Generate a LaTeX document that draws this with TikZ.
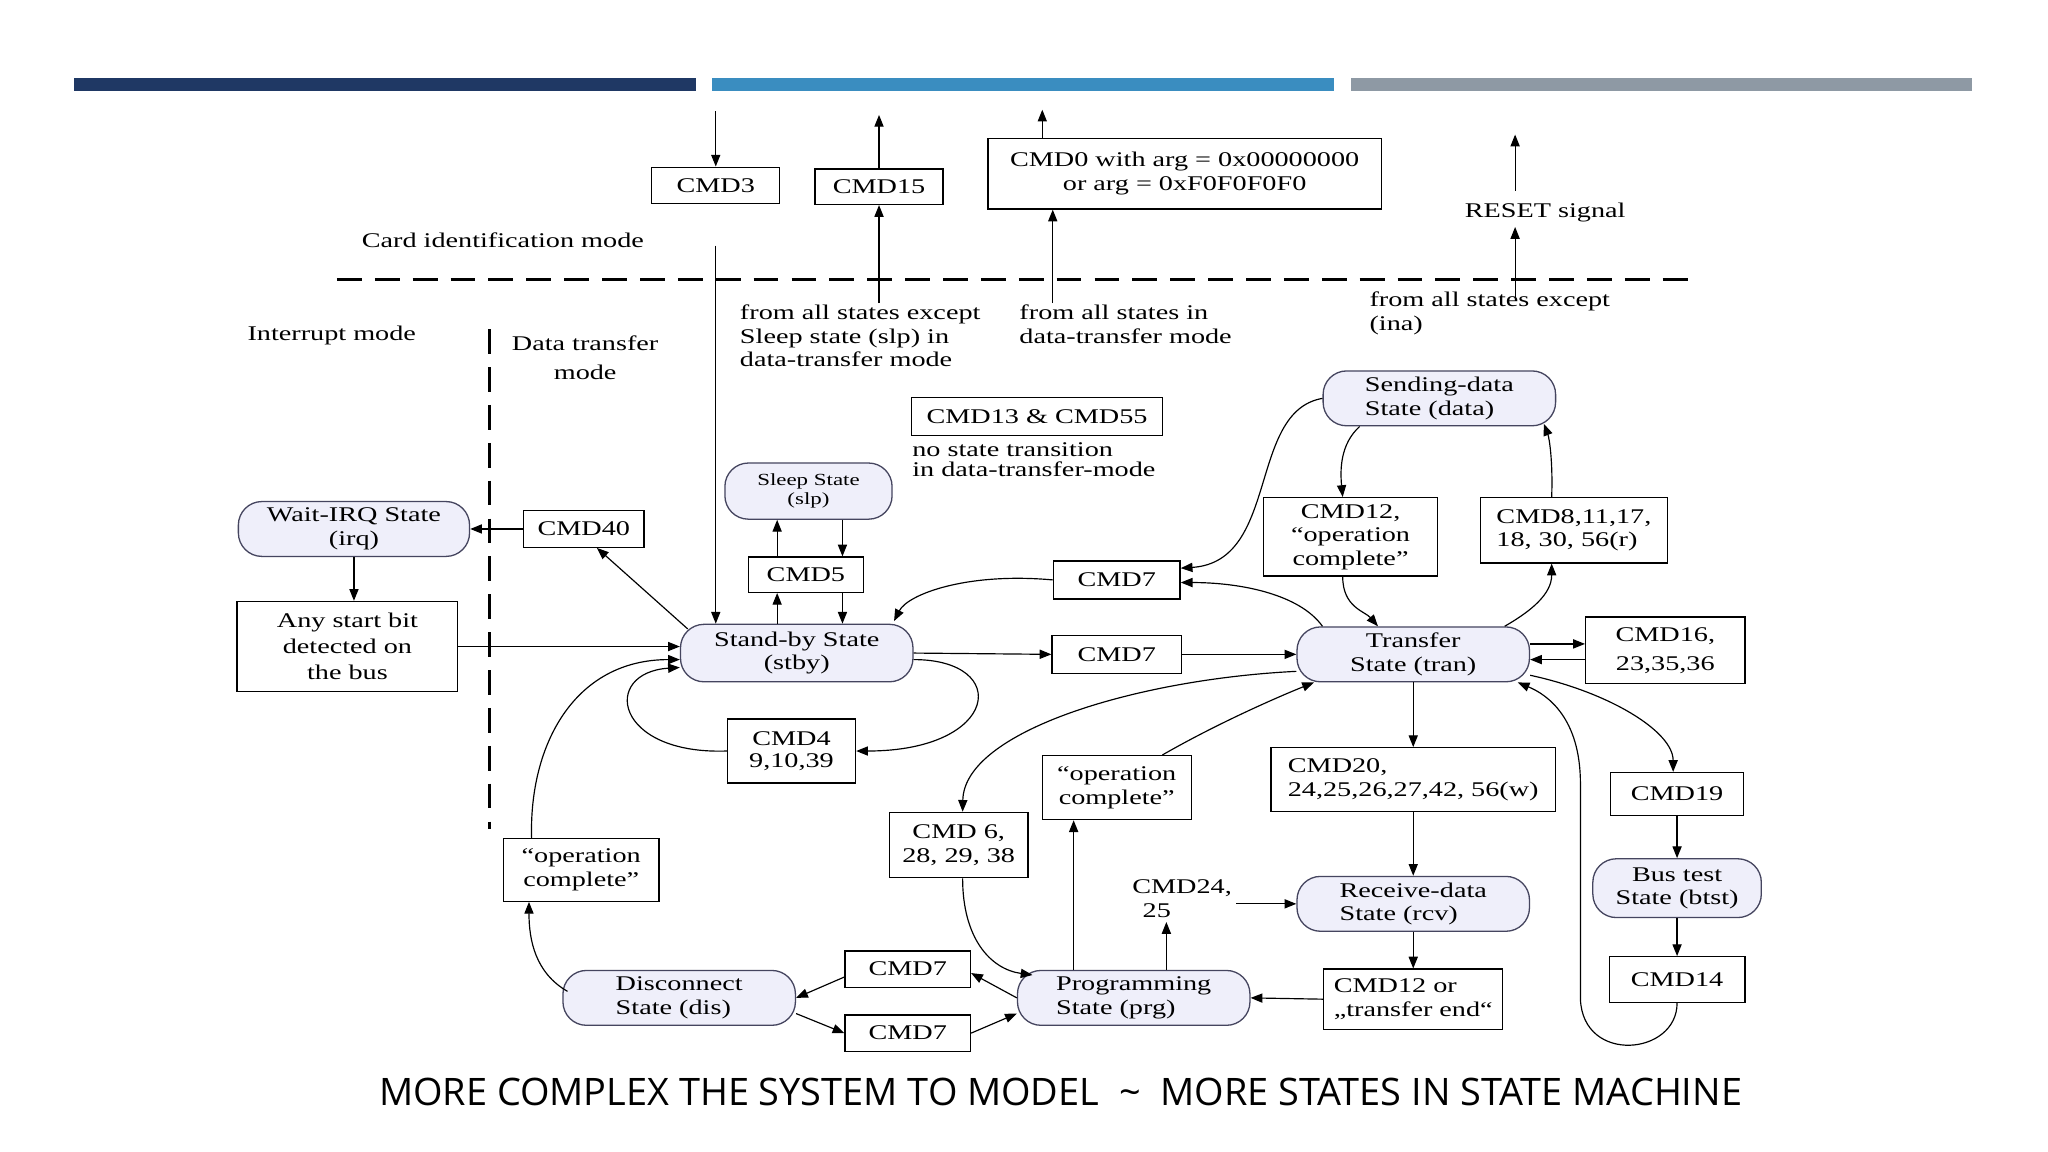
\documentclass[tikz,border=0pt]{standalone}
\usepackage{fontspec}
\setmainfont{Liberation Serif}[FakeStretch=1.35]
\newfontfamily\capfont{Open Sans}
\usetikzlibrary{arrows.meta}

\definecolor{barnavy}{HTML}{1F3864}
\definecolor{barblue}{HTML}{3A8DC0}
\definecolor{bargray}{HTML}{8E99A4}
\definecolor{stfill}{HTML}{EFEFFA}
\definecolor{stline}{HTML}{45455F}

\tikzset{
  statenode/.style = {draw = stline, fill = stfill, line width = 1pt, rounded corners = 18pt,
                      minimum width = 178pt, minimum height = 42pt, inner sep = 2pt, align = center},
  cmdnode/.style   = {draw, line width = 1pt, inner sep = 2pt, align = center},
  arr/.style       = {-{Triangle[length = 9pt, width = 7pt]}, line width = 0.9pt},
  modeline/.style  = {line width = 2.5pt, dash pattern = on 19pt off 10pt}
}

\begin{document}
\begin{tikzpicture}[x = 1pt, y = -1pt, every node/.style = {font = \fontsize{16}{18}\selectfont}]
   \useasboundingbox[fill = white] (0,0) rectangle (1568,882);

   % title bars
   \fill[barnavy] (57,60) rectangle (533,70);
   \fill[barblue] (545,60) rectangle (1021,70);
   \fill[bargray] (1034,60) rectangle (1510,70);

   % mode borders
   \draw[modeline] (258,214) -- (1302,214);
   \draw[modeline] (375,252) -- (375,635);
   \node (CardMode) at (385,184) {Card identification mode};
   \node (IntMode) at (254,257) {Interrupt mode};
   \node[align = center, font = \fontsize{16}{22}\selectfont] (DtMode) at (448,274) {Data transfer\\mode};

   % top commands
   \node[cmdnode, minimum width = 98pt, minimum height = 28pt] (C3) at (548,142) {CMD3};
   \node[cmdnode, minimum width = 98pt, minimum height = 27pt] (C15) at (673,143) {CMD15};
   \node[cmdnode, minimum width = 301pt, minimum height = 54pt] (C0) at (907,133)
      {CMD0 with arg = 0x00000000\\or arg = 0xF0F0F0F0};
   \node (Reset) at (1183,163) {RESET signal};
   \node[align = left, anchor = north west] (FromSlp) at (563,230)
      {from all states except\\Sleep state (slp) in\\data-transfer mode};
   \node[align = left, anchor = north west] (FromDt) at (777,230)
      {from all states in\\data-transfer mode};
   \node[align = left, anchor = north west] (FromIna) at (1045,220)
      {from all states except\\(ina)};
   \node[cmdnode, minimum width = 192pt, minimum height = 29pt] (C1355) at (794,319) {CMD13 \& CMD55};
   \node[align = left, anchor = north west, font = \fontsize{16}{16}\selectfont] (NoTrans) at (695,335)
      {no state transition\\in data-transfer-mode};

   \coordinate (C3In) at (548,85);
   \coordinate (C15Out) at (673,88);
   \coordinate (C15Src) at (673,232);
   \coordinate (C0Out) at (798,84);
   \coordinate (C0Src) at (806,232);
   \coordinate (ResetOut) at (1160,103);
   \coordinate (ResetTop) at (1160,146);
   \coordinate (ResetSrc) at (1160,228);
   \coordinate (StbySrc) at (548,188);

   % states
   \node[statenode, align = left] (Data) at (1102,305) {Sending-data\\State (data)};
   \node[statenode, minimum width = 128pt, minimum height = 43pt, font = \fontsize{13}{15}\selectfont] (Slp) at (619,376) {Sleep State\\(slp)};
   \node[statenode, minimum width = 177pt] (Irq) at (271,405) {Wait-IRQ State\\(irq)};
   \node[statenode, minimum height = 44pt] (Stby) at (610,500) {Stand-by State\\(stby)};
   \node[statenode] (Tran) at (1082,501) {Transfer\\State (tran)};
   \node[statenode, align = left] (Rcv) at (1082,692) {Receive-data\\State (rcv)};
   \node[statenode, minimum width = 129pt, minimum height = 45pt] (Btst) at (1284,680) {Bus test\\State (btst)};
   \node[statenode, align = left] (Dis) at (520,764) {Disconnect\\State (dis)};
   \node[statenode, align = left] (Prg) at (868,764) {Programming\\State (prg)};

   % commands
   \node[cmdnode, minimum width = 92pt, minimum height = 28pt] (C40) at (447,405) {CMD40};
   \node[cmdnode, minimum width = 88pt, minimum height = 27pt] (C5) at (617,440) {CMD5};
   \node[cmdnode, minimum width = 97pt, minimum height = 29pt] (C7a) at (855,444) {CMD7};
   \node[cmdnode, minimum width = 99pt, minimum height = 29pt] (C7b) at (855,501) {CMD7};
   \node[cmdnode, minimum width = 133pt, minimum height = 60pt] (C12a) at (1034,411) {CMD12,\\``operation\\complete''};
   \node[cmdnode, minimum width = 143pt, minimum height = 50pt, align = left] (C8) at (1205,406) {CMD8,11,17,\\18, 30, 56(r)};
   \node[cmdnode, minimum width = 122pt, minimum height = 51pt] (C16) at (1275,498) {CMD16,\\[4pt]23,35,36};
   \node[cmdnode, minimum width = 169pt, minimum height = 69pt] (Start) at (266,495) {Any start bit\\[2pt]detected on\\[2pt]the bus};
   \node[cmdnode, minimum width = 98pt, minimum height = 49pt, font = \fontsize{16}{17}\selectfont] (C4) at (606,575) {CMD4\\9,10,39};
   \node[cmdnode, minimum width = 114pt, minimum height = 49pt] (OpC) at (855,603) {``operation\\complete''};
   \node[cmdnode, minimum width = 218pt, minimum height = 49pt, align = left] (C20) at (1082,597) {CMD20,\\24,25,26,27,42, 56(w)};
   \node[cmdnode, minimum width = 102pt, minimum height = 33pt] (C19) at (1284,608) {CMD19};
   \node[cmdnode, minimum width = 106pt, minimum height = 50pt] (C6) at (734,647) {CMD 6,\\28, 29, 38};
   \node[cmdnode, minimum width = 119pt, minimum height = 48pt] (OpL) at (445,666) {``operation\\complete''};
   \node[align = left] (C2425) at (905,688) {CMD24,\\\hspace*{8pt}25};
   \node[cmdnode, minimum width = 96pt, minimum height = 28pt] (C7c) at (695,742) {CMD7};
   \node[cmdnode, minimum width = 96pt, minimum height = 28pt] (C7d) at (695,791) {CMD7};
   \node[cmdnode, minimum width = 137pt, minimum height = 46pt, align = left] (C12b) at (1082,765) {CMD12 or\\„transfer end“};
   \node[cmdnode, minimum width = 104pt, minimum height = 35pt] (C14) at (1284,750) {CMD14};

   \coordinate (LoopA) at (1210,765);
   \coordinate (LoopB) at (1210,600);

   % card identification mode
   \draw[arr] (C3In) -- (C3.north);
   \draw[arr] (C15.north) -- (C15Out);
   \draw[arr] (C15Src) -- (C15.south);
   \draw[arr] (C0Out |- C0.north) -- (C0Out);
   \draw[arr] (C0Src) -- (C0Src |- C0.south);
   \draw[arr] (ResetTop) -- (ResetOut);
   \draw[arr] (ResetSrc) -- (ResetSrc |- Reset.south);
   \draw[arr] (StbySrc) -- (StbySrc |- Stby.north);

   % interrupt mode
   \draw[arr] (Irq.south) -- (Irq.south |- Start.north);
   \draw[arr] (Start.east) -- (Start.east -| Stby.west);
   \draw[arr] (C40.west) -- (C40.west -| Irq.east);
   \draw[arr] ([xshift = 6pt, yshift = -4pt]Stby.north west) -- ([xshift = 10pt]C40.south);

   % stand-by and sleep
   \draw[arr] ([xshift = -15pt]Stby.north) -- ([xshift = -22pt]C5.south);
   \draw[arr] ([xshift = -22pt]C5.north) -- ([xshift = -24pt]Slp.south);
   \draw[arr] ([xshift = 26pt]Slp.south) -- ([xshift = 28pt]C5.north);
   \draw[arr] ([xshift = 28pt]C5.south) -- ([xshift = 35pt]Stby.north);
   \draw[arr] ([yshift = -5pt]Stby.east) .. controls (775,505) and (765,575) .. (C4.east);
   \draw[arr] (C4.west) .. controls (470,578) and (460,515) .. ([yshift = -11pt]Stby.west);
   \draw[arr] ([xshift = -38pt]OpL.north) .. controls (405,570) and (440,505) .. ([yshift = -5pt]Stby.west);
   \draw[arr] ([xshift = 4pt, yshift = 5pt]Dis.west) .. controls (410,745) and (405,720) .. ([xshift = -40pt]OpL.south);

   % stand-by and transfer
   \draw[arr] (Stby.east) -- (C7b.west);
   \draw[arr] (C7b.east) -- (Tran.west);
   \draw[arr] ([xshift = 20pt]Tran.north west) .. controls (995,455) and (950,446) .. ([yshift = -2pt]C7a.east);
   \draw[arr] (C7a.west) .. controls (740,438) and (695,455) .. ([xshift = -15pt, yshift = 2pt]Stby.north east);
   \draw[arr] (Data.west) .. controls (955,315) and (980,430) .. ([yshift = 9pt]C7a.east);

   % sending data
   \draw[arr] ([xshift = -61pt]Data.south) .. controls (1026,340) and (1026,360) .. ([xshift = -6pt]C12a.north);
   \draw[arr] ([xshift = -6pt]C12a.south) .. controls (1028,465) and (1045,468) .. ([xshift = -27pt]Tran.north);
   \draw[arr] ([xshift = 70pt]Tran.north) .. controls (1172,468) and (1188,455) .. ([xshift = -17pt]C8.south);
   \draw[arr] ([xshift = -17pt]C8.north) .. controls (1189,352) and (1186,335) .. ([xshift = 80pt, yshift = 2pt]Data.south);
   \draw[arr] ([yshift = 8pt]Tran.east) -- ([yshift = 5pt]C16.west);
   \draw[arr] ([yshift = -7pt]C16.west) -- ([yshift = -4pt]Tran.east);

   % receive data and programming
   \draw[arr] (Tran.south) -- (C20.north);
   \draw[arr] (C20.south) -- (Rcv.north);
   \draw[arr] (Rcv.south) -- (C12b.north);
   \draw[arr] (C12b.west) -- (Prg.east);
   \draw[arr] (C2425.east |- Rcv.west) -- (Rcv.west);
   \draw[arr] ([xshift = 25pt]Prg.north) -- ([xshift = -12pt]C2425.south);
   \draw[arr] ([xshift = -46pt]Prg.north) -- ([xshift = -33pt]OpC.south);
   \draw[arr] ([xshift = 35pt]OpC.north) .. controls (930,555) and (975,535) .. ([xshift = -76pt]Tran.south);
   \draw[arr] ([yshift = -13pt]Tran.west) .. controls (870,520) and (738,560) .. ([xshift = 3pt]C6.north);
   \draw[arr] ([xshift = 3pt]C6.south) .. controls (737,718) and (758,742) .. ([xshift = 12pt, yshift = -4pt]Prg.north west);

   % disconnect
   \draw[arr] (Prg.west) -- ([yshift = -3pt]C7c.east);
   \draw[arr] ([yshift = -6pt]C7c.west) -- (Dis.east);
   \draw[arr] ([yshift = -12pt]Dis.east) -- (C7d.west);
   \draw[arr] (C7d.east) -- ([yshift = -12pt]Prg.west);

   % bus test
   \draw[arr] ([yshift = -16pt]Tran.east) .. controls (1232,530) and (1281,560) .. ([xshift = -3pt]C19.north);
   \draw[arr] (C19.south) -- (Btst.north);
   \draw[arr] (Btst.south) -- (C14.north);
   \draw[arr] (C14.south) .. controls (1284,808) and (1212,815) .. (LoopA) -- (LoopB)
              .. controls (1210,550) and (1185,532) .. ([xshift = 80pt]Tran.south);

   \node[font = \capfont\fontsize{29}{32}\selectfont] (Caption) at (812,836)
      {MORE COMPLEX THE SYSTEM TO MODEL \ \textasciitilde\ \ MORE STATES IN STATE MACHINE};
\end{tikzpicture}
\end{document}
